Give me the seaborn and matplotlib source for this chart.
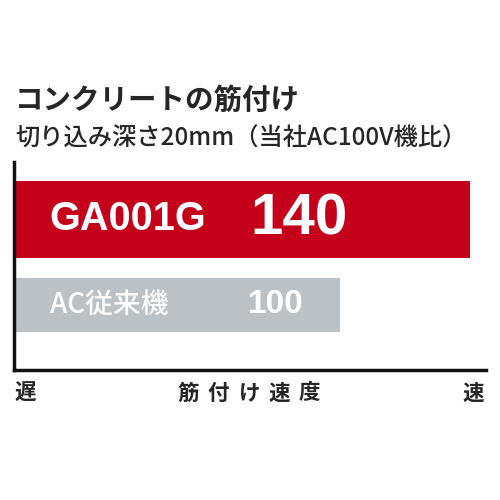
import matplotlib
matplotlib.use('Agg')
import matplotlib.pyplot as plt
import seaborn as sns
import pandas as pd

# data
models = ['GA001G', 'AC従来機']
speed = [140, 100]
bar_colors = ['#C5001A', '#BCC1C6']
bar_heights = [0.9, 0.63]

title = 'コンクリートの筋付け'
subtitle = '切り込み深さ20mm（当社AC100V機比）'
x_left_label = '遅'
x_mid_label = '筋付け速度'
x_right_label = '速'

sns.set_style('white')
plt.rcParams['font.family'] = ['Noto Sans CJK JP', 'DejaVu Sans']

df = pd.DataFrame({'model': models, 'speed': speed})

fig = plt.figure(figsize=(5, 5), dpi=100)
ax = fig.add_axes([0.028, 0.26, 0.944, 0.416])

for i, m in enumerate(models):
    sns.barplot(data=df[df['model'] == m], x='speed', y='model', order=models,
                orient='h', color=bar_colors[i], width=bar_heights[i],
                saturation=1, linewidth=0, ax=ax)

ax.set_xlim(0, 145)
ax.set_ylim(1.761, -0.672)
ax.set_xticks([])
ax.set_yticks([])
ax.set_xlabel('')
ax.set_ylabel('')
for s in ['top', 'right']:
    ax.spines[s].set_visible(False)
for s in ['left', 'bottom']:
    ax.spines[s].set_color('#111111')
    ax.spines[s].set_linewidth(2.5)

# labels inside bars
ax.text(11, 0, models[0], color='white', fontsize=28.5, fontweight='bold',
        va='center', ha='left', family=['Liberation Sans'])
ax.text(72.5, 0, str(speed[0]), color='white', fontsize=42, fontweight='bold',
        va='center', ha='left', family=['Liberation Sans'])
ax.text(11, 1, models[1], color='white', fontsize=20, fontweight='medium',
        va='center', ha='left')
ax.text(72, 1, str(speed[1]), color='white', fontsize=24, fontweight='bold',
        va='center', ha='left', family=['Liberation Sans'])

# titles
fig.text(0.03, 0.798, title, fontsize=20.5, fontweight='bold', va='center', ha='left')
fig.text(0.03, 0.722, subtitle, fontsize=17.5, fontweight='medium', va='center', ha='left')

# axis end labels
fig.text(0.05, 0.214, x_left_label, fontsize=15.5, fontweight='bold', va='center', ha='center')
for k, ch in enumerate(x_mid_label):
    fig.text((188 + 30.25 * k) / 500, 0.214, ch, fontsize=15.5, fontweight='bold',
             va='center', ha='center')
fig.text(0.946, 0.214, x_right_label, fontsize=15.5, fontweight='bold', va='center', ha='center')

fig.savefig('out.png', dpi=100, facecolor='white')
